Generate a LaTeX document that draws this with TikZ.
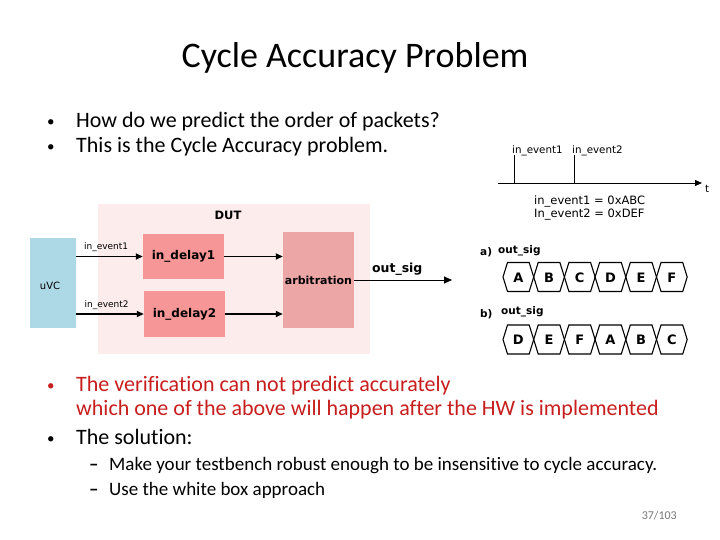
\documentclass[tikz,border=0pt]{standalone}
\usepackage{fontspec}
\setmainfont{Carlito}[Ligatures=NoCommon]
\newfontfamily\djv{DejaVu Sans}
\usetikzlibrary{arrows.meta}
\definecolor{dutbg}{RGB}{253,236,236}
\definecolor{delayc}{RGB}{246,150,150}
\definecolor{arbc}{RGB}{236,166,166}
\definecolor{uvcc}{RGB}{173,216,230}
\definecolor{redtxt}{RGB}{200,30,30}
\definecolor{graytxt}{RGB}{120,120,120}
\tikzset{
  blk/.style={rectangle, inner sep=0pt, font=\djv\bfseries\fontsize{12}{14}\selectfont},
  arr/.style={line width=1.6pt, -{Triangle[length=7pt,width=6pt]}},
  sig/.style={font=\djv\fontsize{9}{11}\selectfont, inner sep=0pt},
  tsig/.style={font=\djv\fontsize{10.3}{12}\selectfont, inner sep=0pt},
  body/.style={anchor=base west, inner sep=0pt, font=\fontsize{22}{26}\selectfont},
  dot/.style={anchor=base west, inner sep=0pt, font=\fontsize{15}{18}\selectfont},
  sub/.style={anchor=base west, inner sep=0pt, font=\fontsize{19}{23}\selectfont},
  hexlbl/.style={font=\djv\bfseries\fontsize{13}{15}\selectfont, inner sep=0pt},
  hexline/.style={line width=1.1pt},
  wlbl/.style={anchor=base west, inner sep=0pt, font=\djv\bfseries\fontsize{10.5}{12}\selectfont}
}
\begin{document}
\begin{tikzpicture}[x=1pt,y=-1pt]
\useasboundingbox (0,0) rectangle (720,540);
\fill[white] (0,0) rectangle (720,540);

% title
\node (title) at (355,58) {\fontsize{36}{42}\selectfont Cycle Accuracy Problem};

% top bullets
\node[dot] (b1d) at (47,127) {\textbullet};
\node[body] (b1) at (76,128) {How do we predict the order of packets?};
\node[dot] (b2d) at (47,152) {\textbullet};
\node[body] (b2) at (76,153) {This is the Cycle Accuracy problem.};

% DUT diagram
\fill[dutbg] (98,204) rectangle (370,354);
\node[font=\djv\bfseries\fontsize{11.5}{13}\selectfont] (dut) at (228,215) {DUT};
\node[blk, fill=uvcc, minimum width=46pt, minimum height=90pt] (uvc) at (53,283) {};
\node[font=\djv\fontsize{10}{12}\selectfont, inner sep=0pt] (uvct) at (50,286) {uVC};
\node[blk, fill=delayc, minimum width=81pt, minimum height=45pt] (d1) at (183.5,256.5) {in\_delay1};
\node[blk, fill=delayc, minimum width=81pt, minimum height=46pt] (d2) at (184.5,314) {in\_delay2};
\node[blk, fill=arbc, minimum width=71pt, minimum height=96pt, font=\djv\bfseries\fontsize{11}{13}\selectfont] (arb) at (318.5,280) {arbitration};

\draw[arr] (uvc.east |- d1.west) -- (d1.west) node[sig, pos=0.45, above=4pt] {in\_event1};
\draw[arr] (uvc.east |- d2.west) -- (d2.west) node[sig, pos=0.45, above=4pt] {in\_event2};
\draw[arr] (d1.east) -- (arb.west |- d1.east);
\draw[arr] (d2.east) -- (arb.west |- d2.east);
\coordinate (outend) at (452,280);
\draw[line width=0.9pt, -{Triangle[length=8pt,width=7pt]}] (arb.east) -- (outend)
  node[pos=0.44, above=4pt, inner sep=0pt, font=\djv\bfseries\fontsize{12.5}{14}\selectfont] {out\_sig};

% timeline
\coordinate (ax0) at (498,183);
\coordinate (ax1) at (702,183);
\draw[line width=0.8pt, -{Triangle[length=7pt,width=6pt]}] (ax0) -- (ax1);
\coordinate (t1) at (514,155);
\coordinate (t2) at (574,155);
\draw[line width=0.7pt] (t1) -- (t1 |- ax0);
\draw[line width=0.7pt] (t2) -- (t2 |- ax0);
\node[tsig, anchor=base west] (e1) at (512,154) {in\_event1};
\node[tsig, anchor=base west] (e2) at (572,154) {in\_event2};
\node[tsig, anchor=base west] (tl) at (705,193) {t};
\node[anchor=base west, inner sep=0pt, font=\djv\fontsize{11.5}{13}\selectfont] (eq1) at (534,205) {in\_event1 = 0xABC};
\node[anchor=base west, inner sep=0pt, font=\djv\fontsize{11.5}{13}\selectfont] (eq2) at (534,218) {In\_event2 = 0xDEF};

% waveforms
\node[wlbl] (la) at (480,255) {a)};
\node[wlbl] (lao) at (498,253) {out\_sig};
\node[wlbl] (lb) at (480,317) {b)};
\node[wlbl] (lbo) at (501,314) {out\_sig};

\foreach \l [count=\i from 0] in {A,B,C,D,E,F} {
  \pgfmathsetmacro{\xa}{503+30.7*\i}
  \pgfmathsetmacro{\xb}{503+30.7*(\i+1)}
  \draw[hexline] (\xa,277) -- (\xa+4.5,262.5) -- (\xb-4.5,262.5) -- (\xb,277) -- (\xb-4.5,291.5) -- (\xa+4.5,291.5) -- cycle;
  \node[hexlbl] at ({(\xa+\xb)/2},277.5) {\l};
}
\foreach \l [count=\i from 0] in {D,E,F,A,B,C} {
  \pgfmathsetmacro{\xa}{503+30.7*\i}
  \pgfmathsetmacro{\xb}{503+30.7*(\i+1)}
  \draw[hexline] (\xa,339.5) -- (\xa+4.5,325) -- (\xb-4.5,325) -- (\xb,339.5) -- (\xb-4.5,354) -- (\xa+4.5,354) -- cycle;
  \node[hexlbl] at ({(\xa+\xb)/2},340) {\l};
}

% bottom bullets
\node[dot, text=redtxt] (b3d) at (47,390) {\textbullet};
\node[body, text=redtxt] (b3) at (76,391) {The verification can not predict accurately};
\node[body, text=redtxt] (b3b) at (76,415) {which one of the above will happen after the HW is implemented};
\node[dot] (b4d) at (47,443) {\textbullet};
\node[body] (b4) at (76,444) {The solution:};
\node[sub] (s1d) at (89,470) {\textbf{--}};
\node[sub] (s1) at (109,470) {Make your testbench robust enough to be insensitive to cycle accuracy.};
\node[sub] (s2d) at (89,495) {\textbf{--}};
\node[sub] (s2) at (109,495) {Use the white box approach};

\node[anchor=base east, inner sep=0pt, text=graytxt, font=\fontsize{12}{14}\selectfont] (pg) at (677,519) {37/103};
\end{tikzpicture}
\end{document}
